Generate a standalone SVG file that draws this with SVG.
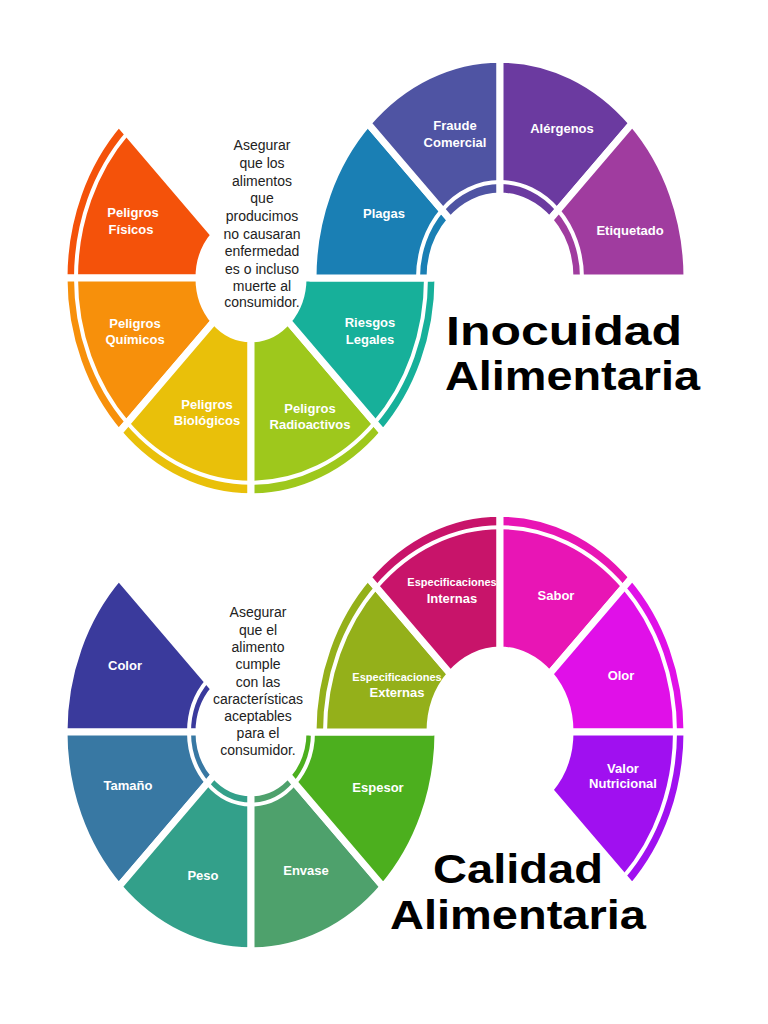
<svg xmlns="http://www.w3.org/2000/svg" width="768" height="1024" viewBox="0 0 768 1024">
<style>
.s{stroke:#fff;stroke-width:7;vector-effect:non-scaling-stroke}
.b{fill:none;stroke:#fff;stroke-width:4;vector-effect:non-scaling-stroke}
.l{font-family:"Liberation Sans",Arial,sans-serif;font-weight:bold;font-size:13px;fill:#fff;text-anchor:middle}
.sm{font-size:11px}
.c{font-family:"Liberation Sans",Arial,sans-serif;font-size:14px;fill:#222;text-anchor:middle}
.t{font-family:"Liberation Sans",Arial,sans-serif;font-weight:bold;fill:#000}
</style>
<rect width="768" height="1024" fill="#fff"/>
<g id="top-left" transform="translate(251,278) scale(1,1.17)">
<g id="fisicos"><path class="s" fill="#f4520a" d="M-52,0L-187,0A187,187 0 0 1 -132.2,-132.2L-36.8,-36.8A52,52 0 0 0 -52,0Z"/><path class="b" d="M-175,0A175,175 0 0 1 -123.7,-123.7"/></g>
<g id="quimicos"><path class="s" fill="#f7900b" d="M-36.8,36.8L-132.2,132.2A187,187 0 0 1 -187,0L-52,0A52,52 0 0 0 -36.8,36.8Z"/><path class="b" d="M-123.7,123.7A175,175 0 0 1 -175,0"/></g>
<g id="biologicos"><path class="s" fill="#e9c00a" d="M0,52L0,187A187,187 0 0 1 -132.2,132.2L-36.8,36.8A52,52 0 0 0 0,52Z"/><path class="b" d="M0,175A175,175 0 0 1 -123.7,123.7"/></g>
<g id="radioactivos"><path class="s" fill="#9ec81c" d="M36.8,36.8L132.2,132.2A187,187 0 0 1 0,187L0,52A52,52 0 0 0 36.8,36.8Z"/><path class="b" d="M123.7,123.7A175,175 0 0 1 0,175"/></g>
<g id="riesgos"><path class="s" fill="#17b09a" d="M52,0L187,0A187,187 0 0 1 132.2,132.2L36.8,36.8A52,52 0 0 0 52,0Z"/><path class="b" d="M175,0A175,175 0 0 1 123.7,123.7"/></g>
</g>
<g id="top-right" transform="translate(500,278) scale(1,1.17)">
<g id="plagas"><path class="s" fill="#1a7fb4" d="M-70,0L-187,0A187,187 0 0 1 -132.2,-132.2L-49.5,-49.5A70,70 0 0 0 -70,0Z"/><path class="b" d="M-82,0A82,82 0 0 1 -58,-58"/></g>
<g id="fraude"><path class="s" fill="#4f54a3" d="M-49.5,-49.5L-132.2,-132.2A187,187 0 0 1 0,-187L0,-70A70,70 0 0 0 -49.5,-49.5Z"/><path class="b" d="M-58,-58A82,82 0 0 1 0,-82"/></g>
<g id="alergenos"><path class="s" fill="#6b3aa0" d="M0,-70L0,-187A187,187 0 0 1 132.2,-132.2L49.5,-49.5A70,70 0 0 0 0,-70Z"/><path class="b" d="M0,-82A82,82 0 0 1 58,-58"/></g>
<g id="etiquetado"><path class="s" fill="#a03c9f" d="M49.5,-49.5L132.2,-132.2A187,187 0 0 1 187,0L70,0A70,70 0 0 0 49.5,-49.5Z"/><path class="b" d="M58,-58A82,82 0 0 1 82,0"/></g>
</g>
<g id="bottom-left" transform="translate(251,732) scale(1,1.17)">
<g id="color"><path class="s" fill="#3a3a9c" d="M-52,0L-187,0A187,187 0 0 1 -132.2,-132.2L-36.8,-36.8A52,52 0 0 0 -52,0Z"/><path class="b" d="M-62,0A62,62 0 0 1 -43.8,-43.8"/></g>
<g id="tamano"><path class="s" fill="#3878a3" d="M-36.8,36.8L-132.2,132.2A187,187 0 0 1 -187,0L-52,0A52,52 0 0 0 -36.8,36.8Z"/><path class="b" d="M-43.8,43.8A62,62 0 0 1 -62,0"/></g>
<g id="peso"><path class="s" fill="#33a08a" d="M0,52L0,187A187,187 0 0 1 -132.2,132.2L-36.8,36.8A52,52 0 0 0 0,52Z"/><path class="b" d="M0,62A62,62 0 0 1 -43.8,43.8"/></g>
<g id="envase"><path class="s" fill="#4ea16c" d="M36.8,36.8L132.2,132.2A187,187 0 0 1 0,187L0,52A52,52 0 0 0 36.8,36.8Z"/><path class="b" d="M43.8,43.8A62,62 0 0 1 0,62"/></g>
<g id="espesor"><path class="s" fill="#4caf1e" d="M52,0L187,0A187,187 0 0 1 132.2,132.2L36.8,36.8A52,52 0 0 0 52,0Z"/><path class="b" d="M62,0A62,62 0 0 1 43.8,43.8"/></g>
</g>
<g id="bottom-right" transform="translate(500,732) scale(1,1.17)">
<g id="externas"><path class="s" fill="#94b01a" d="M-70,0L-187,0A187,187 0 0 1 -132.2,-132.2L-49.5,-49.5A70,70 0 0 0 -70,0Z"/><path class="b" d="M-175,0A175,175 0 0 1 -123.7,-123.7"/></g>
<g id="internas"><path class="s" fill="#c8146a" d="M-49.5,-49.5L-132.2,-132.2A187,187 0 0 1 0,-187L0,-70A70,70 0 0 0 -49.5,-49.5Z"/><path class="b" d="M-123.7,-123.7A175,175 0 0 1 0,-175"/></g>
<g id="sabor"><path class="s" fill="#e815b5" d="M0,-70L0,-187A187,187 0 0 1 132.2,-132.2L49.5,-49.5A70,70 0 0 0 0,-70Z"/><path class="b" d="M0,-175A175,175 0 0 1 123.7,-123.7"/></g>
<g id="olor"><path class="s" fill="#e010e8" d="M49.5,-49.5L132.2,-132.2A187,187 0 0 1 187,0L70,0A70,70 0 0 0 49.5,-49.5Z"/><path class="b" d="M123.7,-123.7A175,175 0 0 1 175,0"/></g>
<g id="valor"><path class="s" fill="#a010f0" d="M70,0L187,0A187,187 0 0 1 132.2,132.2L49.5,49.5A70,70 0 0 0 70,0Z"/><path class="b" d="M175,0A175,175 0 0 1 123.7,123.7"/></g>
</g>
<g id="labels">
<text class="l" x="133" y="217">Peligros</text><text class="l" x="131" y="234">Físicos</text>
<text class="l" x="135" y="328">Peligros</text><text class="l" x="135" y="344">Químicos</text>
<text class="l" x="207" y="409">Peligros</text><text class="l" x="207" y="425">Biológicos</text>
<text class="l" x="310" y="413">Peligros</text><text class="l" x="310" y="429">Radioactivos</text>
<text class="l" x="370" y="327">Riesgos</text><text class="l" x="370" y="344">Legales</text>
<text class="l" x="384" y="218">Plagas</text>
<text class="l" x="455" y="130">Fraude</text><text class="l" x="455" y="147">Comercial</text>
<text class="l" x="562" y="133">Alérgenos</text>
<text class="l" x="630" y="235">Etiquetado</text>
<text class="l" x="125" y="670">Color</text>
<text class="l" x="128" y="790">Tamaño</text>
<text class="l" x="203" y="880">Peso</text>
<text class="l" x="306" y="875">Envase</text>
<text class="l" x="378" y="792">Espesor</text>
<text class="l sm" x="397" y="681">Especificaciones</text><text class="l" x="397" y="697">Externas</text>
<text class="l sm" x="452" y="586">Especificaciones</text><text class="l" x="452" y="603">Internas</text>
<text class="l" x="556" y="600">Sabor</text>
<text class="l" x="621" y="680">Olor</text>
<text class="l" x="623" y="773">Valor</text><text class="l" x="623" y="788">Nutricional</text>
</g>
<g id="center-top">
<text class="c" x="262" y="150">Asegurar</text><text class="c" x="262" y="168">que los</text><text class="c" x="262" y="186">alimentos</text><text class="c" x="262" y="203">que</text><text class="c" x="262" y="221">producimos</text><text class="c" x="262" y="239">no causaran</text><text class="c" x="262" y="256">enfermedad</text><text class="c" x="262" y="274">es o incluso</text><text class="c" x="262" y="291">muerte al</text><text class="c" x="262" y="307">consumidor.</text>
</g>
<g id="center-bottom">
<text class="c" x="258" y="617">Asegurar</text><text class="c" x="258" y="635">que el</text><text class="c" x="258" y="652">alimento</text><text class="c" x="258" y="669">cumple</text><text class="c" x="258" y="687">con las</text><text class="c" x="258" y="704">características</text><text class="c" x="258" y="721">aceptables</text><text class="c" x="258" y="738">para el</text><text class="c" x="258" y="755">consumidor.</text>
</g>
<g id="titles">
<text class="t" x="446" y="345" font-size="40" textLength="236" lengthAdjust="spacingAndGlyphs">Inocuidad</text>
<text class="t" x="445" y="390" font-size="40" textLength="255" lengthAdjust="spacingAndGlyphs">Alimentaria</text>
<text class="t" x="433" y="883" font-size="41" textLength="170" lengthAdjust="spacingAndGlyphs">Calidad</text>
<text class="t" x="390" y="929" font-size="41" textLength="256" lengthAdjust="spacingAndGlyphs">Alimentaria</text>
</g>
</svg>
